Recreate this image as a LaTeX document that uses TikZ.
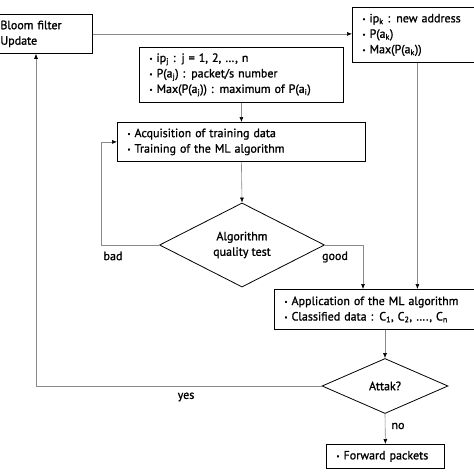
\documentclass[tikz,border=0pt]{standalone}
\usepackage{fontspec}
\setmainfont{PT Sans}[FakeBold=1.2]
\usetikzlibrary{arrows.meta}
\usetikzlibrary{positioning}
\usetikzlibrary{shapes.geometric}
\definecolor{LineGray}{HTML}{8A8A8A}
\newcommand{\bul}{\raisebox{0.15ex}{\scriptsize\textbullet}\ }
\tikzset{
  box/.style={draw, line width=0.8pt, anchor=north west, align=left,
    inner xsep=10pt, inner ysep=0pt, font=\fontsize{12}{15.5}\selectfont},
  test/.style={draw, line width=0.8pt, diamond, inner sep=0pt, align=center,
    font=\fontsize{12}{15.5}\selectfont},
  conn/.style={draw=LineGray, line width=0.6pt, -{Latex[black,length=5pt,width=4pt]}},
  lbl/.style={font=\fontsize{12}{15.5}\selectfont}
}
\begin{document}
\begin{tikzpicture}[x=1pt,y=-1pt]
  \useasboundingbox (0,0) rectangle (474,474);

  \node[box, inner xsep=4pt, text width=88pt, minimum height=39pt] (bloom) at (-4,14)
    {Bloom filter\\Update};
  \node[box, inner xsep=10pt, text width=110pt, minimum height=55pt] (recv) at (352,7)
    {\bul ip\textsubscript{k} : new address\\\bul P(a\textsubscript{k})\\\bul Max(P(a\textsubscript{k}))};
  \node[box, text width=184pt, minimum height=55pt] (stats) at (139,47)
    {\bul ip\textsubscript{j} : j = 1, 2, \dots, n\\\bul P(a\textsubscript{j}) : packet/s number\\\bul Max(P(a\textsubscript{j})) : maximum of P(a\textsubscript{i})};
  \node[box, text width=228pt, minimum height=39pt] (train) at (117,122)
    {\bul Acquisition of training data\\\bul Training of the ML algorithm};
  \node[test, minimum width=165pt, minimum height=74pt] (quality) at (242,245)
    {Algorithm\\quality test};
  \node[box, text width=184pt, minimum height=40pt] (apply) at (274,289)
    {\bul Application of the ML algorithm\\\bul Classified data : C\textsubscript{1}, C\textsubscript{2}, \dots., C\textsubscript{n}};
  \node[test, minimum width=126pt, minimum height=55pt] (attak) at (385,386)
    {Attak?};
  \node[box, text width=98pt, minimum height=24pt] (fwd) at (326,444)
    {\bul Forward packets};

  \coordinate (badc) at (101,245);
  \coordinate (goodc) at (363,245);
  \coordinate (yesc) at (36,386);

  \draw[conn] (bloom.east) -- (bloom.east -| recv.west);
  \draw[conn] (stats.south) -- (train.north);
  \draw[conn] (train.south) -- (quality.north);
  \draw[conn] (quality.west) -- (badc) |- (train.west);
  \draw[conn] (quality.east) -- (goodc) -- (goodc |- apply.north);
  \draw[conn] (recv.south) -- (recv.south |- apply.north);
  \draw[conn] (apply.south -| attak.north) -- (attak.north);
  \draw[conn] (attak.west) -- (yesc) -- (yesc |- bloom.south);
  \draw[conn] (attak.south) -- (fwd.north);

  \node[lbl] (bad) at (113,256) {bad};
  \node[lbl] (good) at (335,257) {good};
  \node[lbl] (yes) at (186,397) {yes};
  \node[lbl] (no) at (398,426) {no};
\end{tikzpicture}
\end{document}
